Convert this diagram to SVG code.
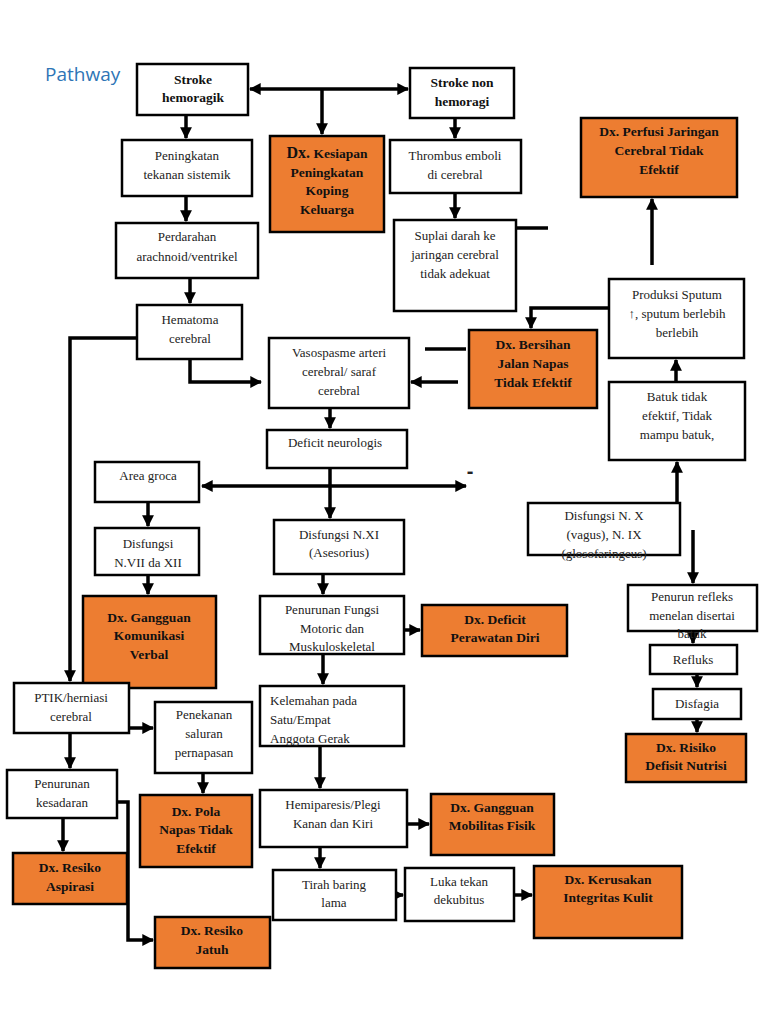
<svg xmlns="http://www.w3.org/2000/svg" width="768" height="1024" viewBox="0 0 768 1024">
<style>
.b{fill:#fff;stroke:#000;stroke-width:2.5}
.o{fill:#ED7D31;stroke:#000;stroke-width:2.5}
text{font-family:"Liberation Serif",serif;font-size:13px;fill:#222;text-anchor:middle}
.d{font-weight:bold;font-size:13.5px;fill:#111}
.l{text-anchor:start}
#conn path{fill:none;stroke:#000;stroke-width:3.5}
</style>
<defs><marker id="a" viewBox="0 0 10 10" refX="9" refY="5" markerWidth="3.4" markerHeight="3.4" orient="auto-start-reverse"><path d="M0,0L10,5L0,10z"/></marker></defs>
<text x="45" y="81" class="l" style="font-family:'Open Sans','DejaVu Sans',sans-serif;font-size:19px;fill:#2E75B6">Pathway</text>
<g id="conn">
<path d="M250,89H408" marker-start="url(#a)" marker-end="url(#a)"/>
<path d="M322,89V134" marker-end="url(#a)"/>
<path d="M186,115V138" marker-end="url(#a)"/>
<path d="M186,196V221" marker-end="url(#a)"/>
<path d="M190,278V303" marker-end="url(#a)"/>
<path d="M137,338H70V681" marker-end="url(#a)"/>
<path d="M190,359V382H261" marker-end="url(#a)"/>
<path d="M455,118V138" marker-end="url(#a)"/>
<path d="M455,193V218" marker-end="url(#a)"/>
<path d="M516,228H548"/>
<path d="M466,349H425"/>
<path d="M458,382H411" marker-end="url(#a)"/>
<path d="M609,308H531V328" marker-end="url(#a)"/>
<path d="M652,265V199" marker-end="url(#a)"/>
<path d="M676,382V360" marker-end="url(#a)"/>
<path d="M677,503V462" marker-end="url(#a)"/>
<path d="M693,530V583" marker-end="url(#a)"/>
<path d="M330,408V428" marker-end="url(#a)"/>
<path d="M330,468V518" marker-end="url(#a)"/>
<path d="M202,486H466" marker-start="url(#a)" marker-end="url(#a)"/>
<path d="M148,502V526" marker-end="url(#a)"/>
<path d="M148,575V594" marker-end="url(#a)"/>
<path d="M323,574V594" marker-end="url(#a)"/>
<path d="M404,630H420" marker-end="url(#a)"/>
<path d="M323,654V684" marker-end="url(#a)"/>
<path d="M320,746V788" marker-end="url(#a)"/>
<path d="M407,824H429" marker-end="url(#a)"/>
<path d="M320,847V868" marker-end="url(#a)"/>
<path d="M396,895H403" marker-end="url(#a)"/>
<path d="M514,895H532" marker-end="url(#a)"/>
<path d="M129,728H153" marker-end="url(#a)"/>
<path d="M70,733V768" marker-end="url(#a)"/>
<path d="M63,818V851" marker-end="url(#a)"/>
<path d="M117,802H128V940H153" marker-end="url(#a)"/>
<path d="M203,751V793" marker-end="url(#a)"/>
<path d="M693,631V643" marker-end="url(#a)"/>
<path d="M697,674V687" marker-end="url(#a)"/>
<path d="M697,719V732" marker-end="url(#a)"/>
</g>
<text x="470" y="478" style="font-family:'Liberation Sans',sans-serif;font-size:20px;font-weight:bold">-</text>
<g id="n1"><rect class="b" x="137" y="64" width="111" height="51"/><text class="d" x="193" y="84">Stroke</text><text class="d" x="193" y="102">hemoragik</text></g>
<g id="n2"><rect class="b" x="410" y="68" width="104" height="50"/><text class="d" x="462" y="87">Stroke non</text><text class="d" x="462" y="106">hemoragi</text></g>
<g id="n3"><rect class="b" x="122" y="140" width="130" height="56"/><text x="187" y="160">Peningkatan</text><text x="187" y="179">tekanan sistemik</text></g>
<g id="n4"><rect class="o" x="270" y="136" width="114" height="96"/><text class="d" x="327" y="158"><tspan style="font-size:16px">Dx.</tspan> Kesiapan</text><text class="d" x="327" y="177">Peningkatan</text><text class="d" x="327" y="195">Koping</text><text class="d" x="327" y="214">Keluarga</text></g>
<g id="n5"><rect class="b" x="390" y="140" width="131" height="53"/><text x="455" y="160">Thrombus emboli</text><text x="455" y="179">di cerebral</text></g>
<g id="n6"><rect class="b" x="116" y="223" width="142" height="55"/><text x="187" y="241">Perdarahan</text><text x="187" y="261">arachnoid/ventrikel</text></g>
<g id="n7"><rect class="b" x="394" y="220" width="122" height="91"/><text x="455" y="240">Suplai darah ke</text><text x="455" y="259">jaringan cerebral</text><text x="455" y="278">tidak adekuat</text></g>
<g id="n8"><rect class="b" x="137" y="305" width="105" height="54"/><text x="190" y="324">Hematoma</text><text x="190" y="343">cerebral</text></g>
<g id="n9"><rect class="b" x="269" y="338" width="140" height="70"/><text x="339" y="357">Vasospasme arteri</text><text x="339" y="376">cerebral/ saraf</text><text x="339" y="395">cerebral</text></g>
<g id="n10"><rect class="o" x="469" y="330" width="128" height="78"/><text class="d" x="533" y="349">Dx. Bersihan</text><text class="d" x="533" y="368">Jalan Napas</text><text class="d" x="533" y="387">Tidak Efektif</text></g>
<g id="n11"><rect class="o" x="581" y="118" width="156" height="79"/><text class="d" x="659" y="136">Dx. Perfusi Jaringan</text><text class="d" x="659" y="155">Cerebral Tidak</text><text class="d" x="659" y="174">Efektif</text></g>
<g id="n12"><rect class="b" x="609" y="279" width="135" height="79"/><text x="677" y="299">Produksi Sputum</text><text x="677" y="318">↑, sputum berlebih</text><text x="677" y="337">berlebih</text></g>
<g id="n13"><rect class="b" x="609" y="382" width="136" height="78"/><text x="677" y="401">Batuk tidak</text><text x="677" y="420">efektif, Tidak</text><text x="677" y="439">mampu batuk,</text></g>
<g id="n14"><rect class="b" x="267" y="430" width="140" height="38"/><text x="335" y="447">Deficit neurologis</text></g>
<g id="n15"><rect class="b" x="95" y="462" width="104" height="40"/><text x="148" y="480">Area groca</text></g>
<g id="n16"><rect class="b" x="274" y="520" width="130" height="54"/><text x="339" y="539">Disfungsi N.XI</text><text x="339" y="557">(Asesorius)</text></g>
<g id="n17"><rect class="b" x="95" y="528" width="104" height="47"/><text x="148" y="548">Disfungsi</text><text x="148" y="567">N.VII da XII</text></g>
<g id="n18"><rect class="o" x="83" y="596" width="133" height="92"/><text class="d" x="149" y="622">Dx. Gangguan</text><text class="d" x="149" y="640">Komunikasi</text><text class="d" x="149" y="659">Verbal</text></g>
<g id="n19"><rect class="b" x="260" y="596" width="144" height="58"/><text x="332" y="614">Penurunan Fungsi</text><text x="332" y="633">Motoric dan</text><text x="332" y="651">Muskuloskeletal</text></g>
<g id="n20"><rect class="o" x="422" y="605" width="145" height="51"/><text class="d" x="495" y="624">Dx. Deficit</text><text class="d" x="495" y="642">Perawatan Diri</text></g>
<g id="n21"><rect class="b" x="260" y="686" width="144" height="60"/><text class="l" x="270" y="705">Kelemahan  pada</text><text class="l" x="270" y="724">Satu/Empat</text><text class="l" x="270" y="743">Anggota Gerak</text></g>
<g id="n22"><rect class="b" x="14" y="683" width="115" height="50"/><text x="71" y="702">PTIK/herniasi</text><text x="71" y="721">cerebral</text></g>
<g id="n23"><rect class="b" x="155" y="702" width="97" height="71"/><text x="204" y="719">Penekanan</text><text x="204" y="738">saluran</text><text x="204" y="757">pernapasan</text></g>
<g id="n24"><rect class="b" x="7" y="770" width="110" height="48"/><text x="62" y="788">Penurunan</text><text x="62" y="807">kesadaran</text></g>
<g id="n25"><rect class="o" x="140" y="795" width="112" height="72"/><text class="d" x="196" y="816">Dx. Pola</text><text class="d" x="196" y="834">Napas Tidak</text><text class="d" x="196" y="853">Efektif</text></g>
<g id="n26"><rect class="b" x="260" y="790" width="147" height="57"/><text x="333" y="809">Hemiparesis/Plegi</text><text x="333" y="828">Kanan dan Kiri</text></g>
<g id="n27"><rect class="o" x="431" y="794" width="123" height="61"/><text class="d" x="492" y="812">Dx. Gangguan</text><text class="d" x="492" y="830">Mobilitas Fisik</text></g>
<g id="n28"><rect class="b" x="273" y="870" width="123" height="50"/><text x="334" y="889">Tirah baring</text><text x="334" y="907">lama</text></g>
<g id="n29"><rect class="b" x="405" y="868" width="109" height="53"/><text x="459" y="886">Luka tekan</text><text x="459" y="904">dekubitus</text></g>
<g id="n30"><rect class="o" x="534" y="866" width="148" height="72"/><text class="d" x="608" y="884">Dx. Kerusakan</text><text class="d" x="608" y="902">Integritas Kulit</text></g>
<g id="n31"><rect class="o" x="13" y="853" width="114" height="51"/><text class="d" x="70" y="872">Dx. Resiko</text><text class="d" x="70" y="891">Aspirasi</text></g>
<g id="n32"><rect class="o" x="155" y="917" width="115" height="51"/><text class="d" x="212" y="935">Dx. Resiko</text><text class="d" x="212" y="954">Jatuh</text></g>
<g id="n33"><rect class="b" x="528" y="503" width="152" height="52"/><text x="604" y="520">Disfungsi N. X</text><text x="604" y="539">(vagus), N. IX</text><text x="604" y="558">(glosofaringeus)</text></g>
<g id="n34"><rect class="b" x="628" y="585" width="129" height="46"/><text x="692" y="601">Penurun refleks</text><text x="692" y="620">menelan disertai</text><text x="692" y="638">batuk</text></g>
<g id="n35"><rect class="b" x="650" y="645" width="87" height="29"/><text x="693" y="664">Refluks</text></g>
<g id="n36"><rect class="b" x="653" y="689" width="88" height="30"/><text x="697" y="708">Disfagia</text></g>
<g id="n37"><rect class="o" x="626" y="734" width="120" height="48"/><text class="d" x="686" y="752">Dx. Risiko</text><text class="d" x="686" y="770">Defisit Nutrisi</text></g>
</svg>
